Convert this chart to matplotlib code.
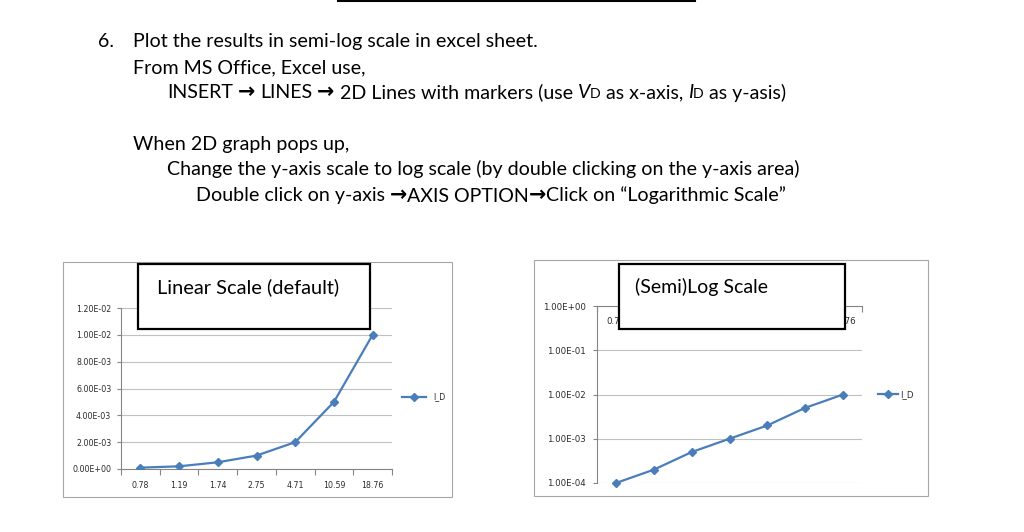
import matplotlib
matplotlib.use('Agg')
import matplotlib.pyplot as plt
from matplotlib.patches import Rectangle
from matplotlib.lines import Line2D
from matplotlib.ticker import FixedLocator, FuncFormatter, NullLocator
import matplotlib.transforms as mtransforms
import numpy as np

# ---------------- data ----------------
v_d_labels = ['0.78', '1.19', '1.74', '2.75', '4.71', '10.59', '18.76']
i_d = [1e-4, 2e-4, 5e-4, 1e-3, 2e-3, 5e-3, 1e-2]
series_name = 'I_D'
lin_yticks = [0.0, 0.002, 0.004, 0.006, 0.008, 0.010, 0.012]
log_yticks = [1e-4, 1e-3, 1e-2, 1e-1, 1e0]
title_left = 'Linear Scale (default)'
title_right = '(Semi)Log Scale'

# ---------------- style ----------------
W, H = 1024, 532
BODY = ['Lato', 'DejaVu Sans']
TICKF = ['DejaVu Sans']
BLUE = '#4A7EBB'
GRID = '#C0C0C0'
AXIS = '#868686'
LBL = '#2b2b2b'

fig = plt.figure(figsize=(W / 100, H / 100), dpi=100)
fig.patch.set_facecolor('white')
renderer = fig.canvas.get_renderer()


def fx(x):
    return x / W


def fy(y):
    return 1 - y / H


def axes_px(l, t, r, b):
    return fig.add_axes([fx(l), fy(b), (r - l) / W, (b - t) / H])


def ext(s, **kw):
    t = fig.text(0, 0, s, **kw)
    w = t.get_window_extent(renderer).width
    t.remove()
    return w


def adv(s, **kw):
    return ext('|' + s + '|', **kw) - ext('||', **kw)


# ---------------- instruction text ----------------
ref = 'Plot the results in semi-log scale in excel sheet.'
base = ext(ref, family=BODY, fontsize=10)
FS = 10 * 404 / base

ARW = dict(family=['DejaVu Sans'], fontweight='bold', fontsize_scale=1.05)
ITA = dict(style='italic')
SMALL = dict(fontsize_scale=0.72)

lines = [
    (98, 47, [('6.', {})]),
    (133, 47, [(ref, {})]),
    (133, 73, [('From MS Office, Excel use,', {})]),
    (167, 98.5, [('INSERT ', {}), ('→', ARW), (' LINES ', {}), ('→', ARW),
                 (' 2D Lines with markers (use ', {}), ('V', ITA), ('D', SMALL),
                 (' as x-axis, ', {}), ('I', ITA), ('D', SMALL), (' as y-asis)', {})]),
    (133, 150, [('When 2D graph pops up,', {})]),
    (167, 175, [('Change the y-axis scale to log scale (by double clicking on the y-axis area)', {})]),
    (196, 201.5, [('Double click on y-axis ', {}), ('→', ARW), ('AXIS OPTION', {}), ('→', ARW),
                  ('Click on “Logarithmic Scale”', {})]),
]

for x0, yb, runs in lines:
    x = x0
    for s, props in runs:
        kw = dict(family=BODY, fontsize=FS, color='black')
        p = dict(props)
        scale = p.pop('fontsize_scale', None)
        if scale:
            kw['fontsize'] = FS * scale
        kw.update(p)
        lead = len(s) - len(s.lstrip(' '))
        xd = x + (adv(' ' * lead, **kw) if lead else 0)
        if s.strip():
            fig.text(fx(xd), fy(yb), s.strip(), ha='left', va='baseline', **kw)
        x += adv(s, **kw)

# top rule
fig.add_artist(Line2D([fx(338), fx(695)], [fy(1), fy(1)], color='black', lw=1.5,
                      transform=fig.transFigure))

# ---------------- chart frames ----------------
for (l, t, r, b) in [(63, 262, 452, 497), (534, 260, 928, 496)]:
    fig.add_artist(Rectangle((fx(l), fy(b)), (r - l) / W, (b - t) / H, transform=fig.transFigure,
                             fill=False, ec='#A6A6A6', lw=0.8, zorder=-1))

x = np.arange(len(v_d_labels))
fmt = FuncFormatter(lambda v, p: f'{v:.2E}')
FS_L = 5.7
FS_R = 6.2

# ---------------- left: linear ----------------
ax1 = axes_px(121, 308, 392, 469)
ax1.set_facecolor('none')
ax1.plot(x, i_d, color=BLUE, lw=1.6, marker='D', ms=4, label=series_name, zorder=3)
ax1.set_xlim(-0.5, len(x) - 0.5)
ax1.set_ylim(0, 0.012)
ax1.set_yticks(lin_yticks)
ax1.yaxis.set_major_formatter(fmt)
ax1.set_xticks(x)
ax1.set_xticklabels(v_d_labels)
ax1.xaxis.set_minor_locator(FixedLocator(np.arange(-0.5, len(x), 1)))
ax1.tick_params(axis='x', which='major', length=0, pad=9, labelsize=FS_L, labelcolor=LBL)
ax1.tick_params(axis='x', which='minor', length=4, width=0.8, color=AXIS, direction='out')
ax1.tick_params(axis='y', length=3, width=0.8, color=AXIS, pad=4, labelsize=FS_L, labelcolor=LBL)
for lab in ax1.get_xticklabels() + ax1.get_yticklabels():
    lab.set_family(TICKF)
ax1.grid(axis='y', color=GRID, lw=0.8)
ax1.set_axisbelow(True)
for s in ['top', 'right']:
    ax1.spines[s].set_visible(False)
for s in ['left', 'bottom']:
    ax1.spines[s].set_color(AXIS)
    ax1.spines[s].set_linewidth(0.8)
leg1 = ax1.legend(loc='center left', bbox_to_anchor=(fx(402), fy(397)), bbox_transform=fig.transFigure,
                  frameon=False, prop=dict(family=TICKF, size=FS_L), handlelength=3.0, handletextpad=0.9,
                  borderpad=0, borderaxespad=0)
for t in leg1.get_texts():
    t.set_color(LBL)

# ---------------- right: semi-log ----------------
ax2 = axes_px(597, 306, 862, 483)
ax2.set_facecolor('none')
ax2.plot(x, i_d, color=BLUE, lw=1.6, marker='D', ms=4, label=series_name, zorder=3, clip_on=False)
ax2.set_yscale('log')
ax2.set_xlim(-0.5, len(x) - 0.5)
ax2.set_ylim(1e-4, 1)
ax2.set_yticks(log_yticks)
ax2.yaxis.set_major_formatter(fmt)
ax2.yaxis.set_minor_locator(NullLocator())
ax2.xaxis.set_ticks_position('top')
ax2.set_xticks(x)
ax2.tick_params(axis='x', which='major', length=0, labeltop=False, labelbottom=False)
ax2.xaxis.set_minor_locator(FixedLocator(np.arange(-0.5, len(x), 1)))
ax2.tick_params(axis='x', which='minor', length=4, width=0.8, color=AXIS, direction='in')
ax2.tick_params(axis='y', length=3, width=0.8, color=AXIS, pad=5, labelsize=FS_R, labelcolor=LBL)
for lab in ax2.get_yticklabels():
    lab.set_family(TICKF)
ax2.grid(axis='y', which='major', color=GRID, lw=0.8)
ax2.set_axisbelow(True)
for s in ['bottom', 'right']:
    ax2.spines[s].set_visible(False)
for s in ['left', 'top']:
    ax2.spines[s].set_color(AXIS)
    ax2.spines[s].set_linewidth(0.8)
trans = mtransforms.offset_copy(ax2.get_xaxis_transform(), fig=fig, x=0, y=-15, units='dots')
for i, lab in enumerate(v_d_labels):
    ax2.text(i, 1, lab, transform=trans, ha='center', va='center', family=TICKF, fontsize=FS_R, color=LBL)
leg2 = ax2.legend(loc='center left', bbox_to_anchor=(fx(878), fy(395)), bbox_transform=fig.transFigure,
                  frameon=False, prop=dict(family=TICKF, size=FS_R), handlelength=2.3, handletextpad=0.3,
                  borderpad=0, borderaxespad=0)
for t in leg2.get_texts():
    t.set_color(LBL)

# ---------------- text boxes ----------------
for (l, t, r, b), txt, tx, tw in [((138, 264, 370, 329), title_left, 157, 183),
                                  ((619, 264, 845, 329), title_right, 635, 133)]:
    fig.add_artist(Rectangle((fx(l), fy(b)), (r - l) / W, (b - t) / H, transform=fig.transFigure,
                             fc='white', ec='black', lw=1.6, zorder=5))
    fs = 10 * tw / ext(txt, family=BODY, fontsize=10)
    fig.text(fx(tx), fy(287), txt, ha='left', va='center', family=BODY, fontsize=fs,
             color='black', zorder=6)

fig.savefig('out.png', dpi=100)
